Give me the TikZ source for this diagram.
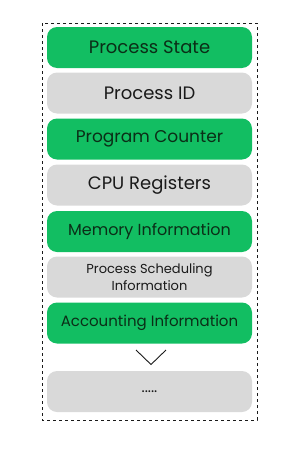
\documentclass[tikz,border=0pt]{standalone}
\usepackage{fontspec}
\setmainfont{Poppins}
\definecolor{pgreen}{HTML}{12BE62}
\definecolor{pgray}{HTML}{D9D9D9}
\definecolor{ptext}{HTML}{1A1A1A}
\definecolor{gtext}{HTML}{0B2E17}
\begin{document}
\begin{tikzpicture}[x=1pt,y=-1pt,
  field/.style={rounded corners=10pt, minimum width=205pt, minimum height=41pt, inner sep=0pt, text=ptext, align=center},
  gfield/.style={field, fill=pgreen, text=gtext},
  hfield/.style={field, fill=pgray}]
\useasboundingbox (0,0) rectangle (300,450);
\draw[dashed, line width=0.9pt, ptext] (42,23) rectangle (257,420);
\node[gfield, font=\fontsize{18}{20}\selectfont] (ps) at (149.5,47.5) {Process State};
\node[hfield, font=\fontsize{18}{20}\selectfont] (pid) at (149.5,93) {Process ID};
\node[gfield, font=\fontsize{17}{20}\selectfont] (pc) at (149.5,139) {Program Counter};
\node[hfield, font=\fontsize{18}{20}\selectfont] (cpu) at (149.5,185) {CPU Registers};
\node[gfield, font=\fontsize{16}{20}\selectfont] (mem) at (149.5,231.5) {Memory Information};
\node[hfield, font=\fontsize{13}{17}\selectfont] (sch) at (149.5,277) {Process Scheduling\\Information};
\node[gfield, font=\fontsize{15}{20}\selectfont] (acc) at (149.5,323) {Accounting Information};
\node[hfield, font=\fontsize{15}{17}\selectfont] (more) at (149.5,391.5) {.....};
\coordinate (cl) at (136,350);
\coordinate (cm) at (151,364.5);
\coordinate (cr) at (166,350);
\draw[line width=0.9pt, ptext] (cl) -- (cm) -- (cr);
\end{tikzpicture}
\end{document}
